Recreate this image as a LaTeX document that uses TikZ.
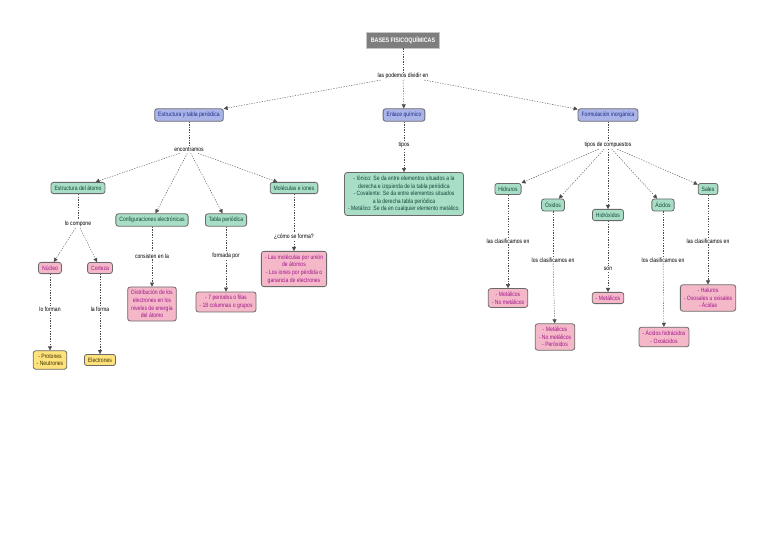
\documentclass[tikz,border=0pt]{standalone}
\usepackage{fontspec}
\setmainfont{Liberation Sans}[FakeStretch=0.82]
\usetikzlibrary{arrows.meta}
\definecolor{bluefill}{HTML}{AAB4E8}
\definecolor{bluetext}{HTML}{1E2C88}
\definecolor{greenfill}{HTML}{A8DEC6}
\definecolor{greentext}{HTML}{14463A}
\definecolor{pinkfill}{HTML}{F4B8C8}
\definecolor{pinktext}{HTML}{A0168C}
\definecolor{yellowfill}{HTML}{FFE27C}
\definecolor{yellowtext}{HTML}{3A3000}
\definecolor{boxline}{HTML}{6A6A6A}
\definecolor{titlefill}{HTML}{7E7E7E}
\tikzset{
  txt/.style={font=\fontsize{6.2}{7.6}\selectfont, align=center},
  concept/.style={txt, rounded corners=2.5pt, draw=boxline, line width=0.8pt, inner xsep=3.5pt, inner ysep=3.3pt},
  titlebox/.style={concept, fill=titlefill, draw=gray!45, text=white, font=\fontsize{6.5}{8}\selectfont\bfseries, inner xsep=4.5pt, inner ysep=4.5pt, rounded corners=0pt},
  bluebox/.style={concept, fill=bluefill, text=bluetext},
  greenbox/.style={concept, fill=greenfill, text=greentext},
  pinkbox/.style={concept, fill=pinkfill, text=pinktext},
  yellowbox/.style={concept, fill=yellowfill, text=yellowtext},
  linkph/.style={txt, inner sep=1pt, fill=white},
  conn/.style={draw=black!70, line width=0.4pt, dash pattern=on 1.3pt off 1.3pt},
  arr/.style={conn, -{Triangle[length=4pt,width=4pt]}},
}
\begin{document}
\begin{tikzpicture}[x=1pt,y=-1pt]
\path[use as bounding box, fill=white] (0,0) rectangle (768,543);

% Title
\node[titlebox] (title) at (403,40) {BASES FISICOQUÍMICAS};
\node[linkph] (l0) at (403,76) {las podemos dividir en};

% Level 2
\node[bluebox] (etp) at (189,115) {Estructura y tabla periódica};
\node[bluebox] (eq) at (404,115) {Enlace químico};
\node[bluebox] (fi) at (608,115) {Formulación inorgánica};

\node[linkph] (lenc) at (189,150) {encontramos};
\node[linkph] (ltip) at (404,145) {tipos};
\node[linkph] (ltc) at (608,145) {tipos de compuestos};

% Left subtree
\node[greenbox] (ea) at (78,188) {Estructura del átomo};
\node[greenbox] (ce) at (152,220) {Configuraciones electrónicas};
\node[greenbox] (tp) at (226,220) {Tabla periódica};
\node[greenbox] (mi) at (294,188) {Moléculas e iones};

\node[linkph] (lcomp) at (78,224) {lo compone};
\node[linkph] (lcons) at (152,256) {consisten en la};
\node[linkph] (lform) at (226,256) {formada por};
\node[linkph] (lcomo) at (294,237) {¿cómo se forma?};

\node[pinkbox] (nuc) at (50,268) {Núcleo};
\node[pinkbox] (cor) at (100,268) {Corteza};
\node[linkph] (lfn) at (50,309) {lo forman};
\node[linkph] (lfa) at (100,309) {la forma};
\node[yellowbox] (pn) at (50,360) {- Protones\\- Neutrones};
\node[yellowbox] (el) at (100,360) {Electrones};

\node[pinkbox] (dist) at (152,304) {Distribución de los\\electrones en los\\niveles de energía\\del átomo};
\node[pinkbox] (per) at (226,302) {- 7 periodos o filas\\- 18 columnas o grupos};
\node[pinkbox] (mol) at (294,269) {- Las moléculas por unión\\de átomos\\- Los iones por pérdida o\\ganancia de electrones};

% Middle
\node[greenbox] (ion) at (404,194) {- Iónico: Se da entre elementos situados a la\\derecha e izquierda de la tabla periódica\\- Covalente: Se da entre elementos situados\\a la derecha tabla periódica\\- Metálico: Se da en cualquier elemento metálico.};

% Right subtree
\node[greenbox] (hid) at (508,189) {Hidruros};
\node[greenbox] (oxi) at (553,205) {Óxidos};
\node[greenbox] (hdx) at (608,215) {Hidróxidos};
\node[greenbox] (aci) at (663,205) {Ácidos};
\node[greenbox] (sal) at (708,189) {Sales};

\node[linkph] (lc1) at (508,241) {las clasificamos en};
\node[linkph] (lc2) at (553,260) {los clasificamos en};
\node[linkph] (lson) at (608,269) {son};
\node[linkph] (lc4) at (663,260) {los clasificamos en};
\node[linkph] (lc5) at (708,241) {las clasificamos en};

\node[pinkbox] (r1) at (508,298) {- Metálicos\\- No metálicos};
\node[pinkbox] (r2) at (555,337) {- Metálicos\\- No metálicos\\- Peróxidos};
\node[pinkbox] (r3) at (608,298) {- Metálicos};
\node[pinkbox] (r4) at (664,337) {- Ácidos hidrácidos\\- Oxoácidos};
\node[pinkbox] (r5) at (708,298) {- Haluros\\- Oxosales u oxisales\\- Ácidas};

% Connectors
\draw[conn] (title) -- (l0);
\draw[arr] (l0) -- (etp);
\draw[arr] (l0) -- (eq);
\draw[arr] (l0) -- (fi);

\draw[conn] (etp) -- (lenc);
\draw[arr] (lenc) -- (ea);
\draw[arr] (lenc) -- (ce);
\draw[arr] (lenc) -- (tp);
\draw[arr] (lenc) -- (mi);

\draw[conn] (eq) -- (ltip);
\draw[arr] (ltip) -- (ion);

\draw[conn] (fi) -- (ltc);
\draw[arr] (ltc) -- (hid);
\draw[arr] (ltc) -- (oxi);
\draw[arr] (ltc) -- (hdx);
\draw[arr] (ltc) -- (aci);
\draw[arr] (ltc) -- (sal);

\draw[conn] (ea) -- (lcomp);
\draw[arr] (lcomp) -- (nuc);
\draw[arr] (lcomp) -- (cor);
\draw[conn] (nuc) -- (lfn);
\draw[arr] (lfn) -- (pn);
\draw[conn] (cor) -- (lfa);
\draw[arr] (lfa) -- (el);

\draw[conn] (ce) -- (lcons);
\draw[arr] (lcons) -- (dist);
\draw[conn] (tp) -- (lform);
\draw[arr] (lform) -- (per);
\draw[conn] (mi) -- (lcomo);
\draw[arr] (lcomo) -- (mol);

\draw[conn] (hid) -- (lc1);
\draw[arr] (lc1) -- (r1);
\draw[conn] (oxi) -- (lc2);
\draw[arr] (lc2) -- (r2);
\draw[conn] (hdx) -- (lson);
\draw[arr] (lson) -- (r3);
\draw[conn] (aci) -- (lc4);
\draw[arr] (lc4) -- (r4);
\draw[conn] (sal) -- (lc5);
\draw[arr] (lc5) -- (r5);
\end{tikzpicture}
\end{document}
